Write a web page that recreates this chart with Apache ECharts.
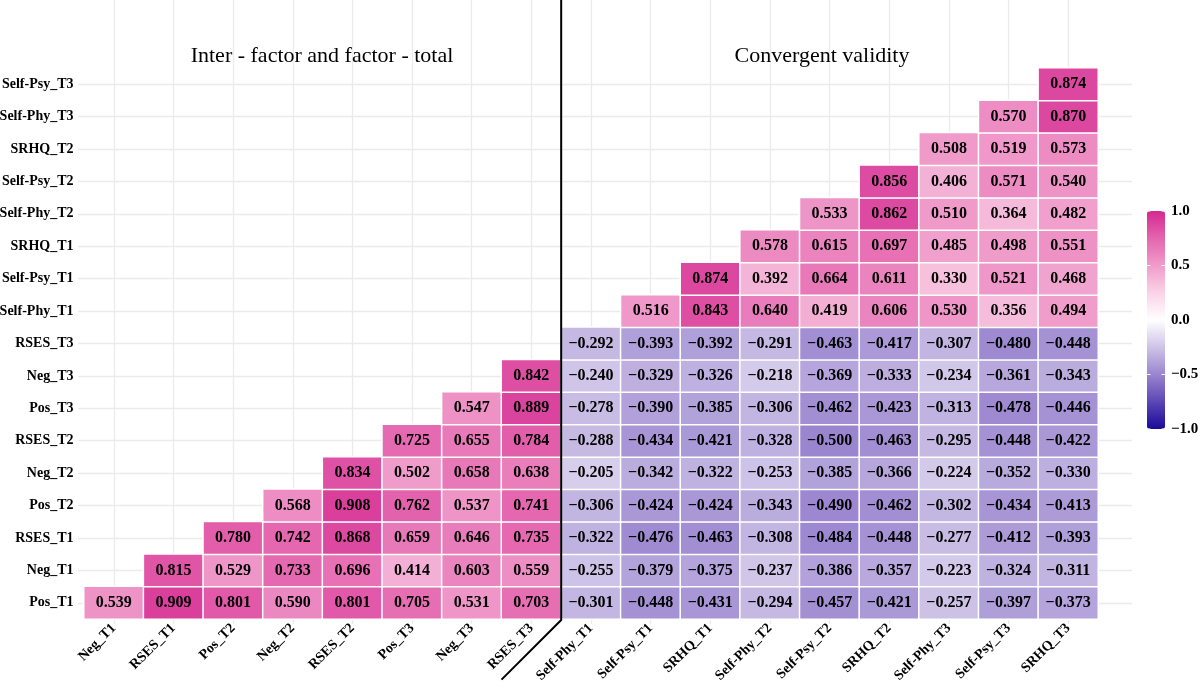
<!DOCTYPE html>
<html><head><meta charset="utf-8">
<script src="https://cdn.jsdelivr.net/npm/echarts@6/dist/echarts.min.js"></script>
<style>html,body{margin:0;padding:0;background:#fff}#c{width:1200px;height:685px}</style>
</head><body><div id="c"></div>
<script>
// ---- categories ----
const rowLabels = ['Pos_T1','Neg_T1','RSES_T1','Pos_T2','Neg_T2','RSES_T2','Pos_T3','Neg_T3','RSES_T3',
  'Self-Phy_T1','Self-Psy_T1','SRHQ_T1','Self-Phy_T2','Self-Psy_T2','SRHQ_T2','Self-Phy_T3','Self-Psy_T3'];
const colLabels = ['Neg_T1','RSES_T1','Pos_T2','Neg_T2','RSES_T2','Pos_T3','Neg_T3','RSES_T3',
  'Self-Phy_T1','Self-Psy_T1','SRHQ_T1','Self-Phy_T2','Self-Psy_T2','SRHQ_T2','Self-Phy_T3','Self-Psy_T3','SRHQ_T3'];

// ---- correlation values, one array per row (right-aligned: last value = SRHQ_T3 column) ----
const vals_Pos_T1 = [0.539,0.909,0.801,0.590,0.801,0.705,0.531,0.703,-0.301,-0.448,-0.431,-0.294,-0.457,-0.421,-0.257,-0.397,-0.373];
const vals_Neg_T1 = [0.815,0.529,0.733,0.696,0.414,0.603,0.559,-0.255,-0.379,-0.375,-0.237,-0.386,-0.357,-0.223,-0.324,-0.311];
const vals_RSES_T1 = [0.780,0.742,0.868,0.659,0.646,0.735,-0.322,-0.476,-0.463,-0.308,-0.484,-0.448,-0.277,-0.412,-0.393];
const vals_Pos_T2 = [0.568,0.908,0.762,0.537,0.741,-0.306,-0.424,-0.424,-0.343,-0.490,-0.462,-0.302,-0.434,-0.413];
const vals_Neg_T2 = [0.834,0.502,0.658,0.638,-0.205,-0.342,-0.322,-0.253,-0.385,-0.366,-0.224,-0.352,-0.330];
const vals_RSES_T2 = [0.725,0.655,0.784,-0.288,-0.434,-0.421,-0.328,-0.500,-0.463,-0.295,-0.448,-0.422];
const vals_Pos_T3 = [0.547,0.889,-0.278,-0.390,-0.385,-0.306,-0.462,-0.423,-0.313,-0.478,-0.446];
const vals_Neg_T3 = [0.842,-0.240,-0.329,-0.326,-0.218,-0.369,-0.333,-0.234,-0.361,-0.343];
const vals_RSES_T3 = [-0.292,-0.393,-0.392,-0.291,-0.463,-0.417,-0.307,-0.480,-0.448];
const vals_SelfPhy_T1 = [0.516,0.843,0.640,0.419,0.606,0.530,0.356,0.494];
const vals_SelfPsy_T1 = [0.874,0.392,0.664,0.611,0.330,0.521,0.468];
const vals_SRHQ_T1 = [0.578,0.615,0.697,0.485,0.498,0.551];
const vals_SelfPhy_T2 = [0.533,0.862,0.510,0.364,0.482];
const vals_SelfPsy_T2 = [0.856,0.406,0.571,0.540];
const vals_SRHQ_T2 = [0.508,0.519,0.573];
const vals_SelfPhy_T3 = [0.570,0.870];
const vals_SelfPsy_T3 = [0.874];

const legendTicks = [1.0, 0.5, 0.0, -0.5, -1.0];
const panelTitles = ['Inter - factor and factor - total', 'Convergent validity'];

// ---- build heatmap data ----
const rowValues = [vals_Pos_T1, vals_Neg_T1, vals_RSES_T1, vals_Pos_T2, vals_Neg_T2, vals_RSES_T2,
  vals_Pos_T3, vals_Neg_T3, vals_RSES_T3, vals_SelfPhy_T1, vals_SelfPsy_T1, vals_SRHQ_T1,
  vals_SelfPhy_T2, vals_SelfPsy_T2, vals_SRHQ_T2, vals_SelfPhy_T3, vals_SelfPsy_T3];
const data = [];
rowValues.forEach((arr, r) => {
  const start = colLabels.length - arr.length;
  arr.forEach((v, i) => data.push([start + i, r, v]));
});
const fmt = v => (v < 0 ? '\u2212' : '') + Math.abs(v).toFixed(3);
const fmt1 = v => (v < 0 ? '\u2212' : '') + Math.abs(v).toFixed(1);

const FONT = '"Liberation Serif", "Times New Roman", serif';
const GRID_COLOR = '#ebebeb';
const BAR = {left: 1147, top: 211, w: 18, h: 218};

const chart = echarts.init(document.getElementById('c'));
const option = {
  animation: false,
  backgroundColor: '#ffffff',
  grid: [
    {left: 84, right: 102, top: 68, bottom: 66, containLabel: false, outerBoundsMode: 'none'},
    {left: 84, right: 102, top: 0, bottom: 61, containLabel: false, outerBoundsMode: 'none'},
    {left: 78, right: 68, top: 68, bottom: 66, containLabel: false, outerBoundsMode: 'none'}
  ],
  xAxis: [
    {type: 'category', gridIndex: 0, data: colLabels, axisLine: {show: false}, axisTick: {show: false},
     splitLine: {show: false},
     axisLabel: {interval: 0, rotate: 45, margin: 7, fontFamily: FONT, fontWeight: 'bold', fontSize: 14, color: '#000'}},
    {type: 'category', gridIndex: 1, data: colLabels, axisLine: {show: false}, axisTick: {show: false},
     axisLabel: {show: false},
     splitLine: {show: true, interval: 0, alignWithLabel: true, lineStyle: {color: GRID_COLOR, width: 1.3}}},
    {type: 'value', gridIndex: 2, show: false, min: 0, max: 1}
  ],
  yAxis: [
    {type: 'category', gridIndex: 0, data: rowLabels, axisLine: {show: false}, axisTick: {show: false},
     splitLine: {show: false},
     axisLabel: {interval: 0, margin: 10.5, fontFamily: FONT, fontWeight: 'bold', fontSize: 14, color: '#000'}},
    {type: 'value', gridIndex: 1, show: false, min: 0, max: 1},
    {type: 'category', gridIndex: 2, data: rowLabels, axisLine: {show: false}, axisTick: {show: false},
     axisLabel: {show: false},
     splitLine: {show: true, interval: 0, alignWithLabel: true, lineStyle: {color: GRID_COLOR, width: 1.3}}}
  ],
  visualMap: {
    type: 'continuous', min: -1, max: 1, calculable: false, seriesIndex: 0, orient: 'vertical',
    left: BAR.left, top: BAR.top, itemWidth: BAR.w, itemHeight: BAR.h, padding: 0, text: null,
    hoverLink: false,
    inRange: {color: ['#1a0a99','#5b46b5','#9a85cf','#cec3e7','#ffffff','#fad3e7','#f09ccb','#e465ae','#d42991']}
  },
  series: [{
    type: 'heatmap', xAxisIndex: 0, yAxisIndex: 0, data: data,
    label: {show: true, formatter: p => fmt(p.value[2]), fontFamily: FONT, fontWeight: 'bold', fontSize: 16, color: '#000'},
    itemStyle: {borderColor: '#ffffff', borderWidth: 1.5},
    emphasis: {disabled: true}
  }]
};
chart.setOption(option);

// ---- annotations ----
const pA = chart.convertToPixel({gridIndex: 0}, ['RSES_T3', 'Pos_T1']);
const pB = chart.convertToPixel({gridIndex: 0}, ['Self-Phy_T1', 'Pos_T1']);
const pC = chart.convertToPixel({gridIndex: 0}, ['RSES_T3', 'Neg_T1']);
const colW = pB[0] - pA[0];
const rowH = pA[1] - pC[1];
const bx = (pA[0] + pB[0]) / 2;
const by = pA[1] + rowH / 2 + 1;

const graphics = [];
graphics.push({type: 'text', x: 322, y: 56, z: 50,
  style: {text: panelTitles[0], font: '22px ' + FONT, fill: '#000', align: 'center', verticalAlign: 'middle'}});
graphics.push({type: 'text', x: 822, y: 56, z: 50,
  style: {text: panelTitles[1], font: '22px ' + FONT, fill: '#000', align: 'center', verticalAlign: 'middle'}});
graphics.push({type: 'polyline', z: 100,
  shape: {points: [[bx, 0], [bx, by], [bx - colW, by + colW]]},
  style: {stroke: '#000', lineWidth: 2, fill: null}});
legendTicks.forEach(t => {
  const y = BAR.top + (1 - t) / 2 * BAR.h;
  graphics.push({type: 'text', x: BAR.left + BAR.w + 6, y: y, z: 50,
    style: {text: fmt1(t), font: 'bold 15px ' + FONT, fill: '#000', align: 'left', verticalAlign: 'middle'}});
  graphics.push({type: 'line', z: 60, shape: {x1: BAR.left, y1: y, x2: BAR.left + 3.5, y2: y},
    style: {stroke: '#fff', lineWidth: 1}});
  graphics.push({type: 'line', z: 60, shape: {x1: BAR.left + BAR.w - 3.5, y1: y, x2: BAR.left + BAR.w, y2: y},
    style: {stroke: '#fff', lineWidth: 1}});
});
chart.setOption({graphic: graphics});
</script>
</body></html>
